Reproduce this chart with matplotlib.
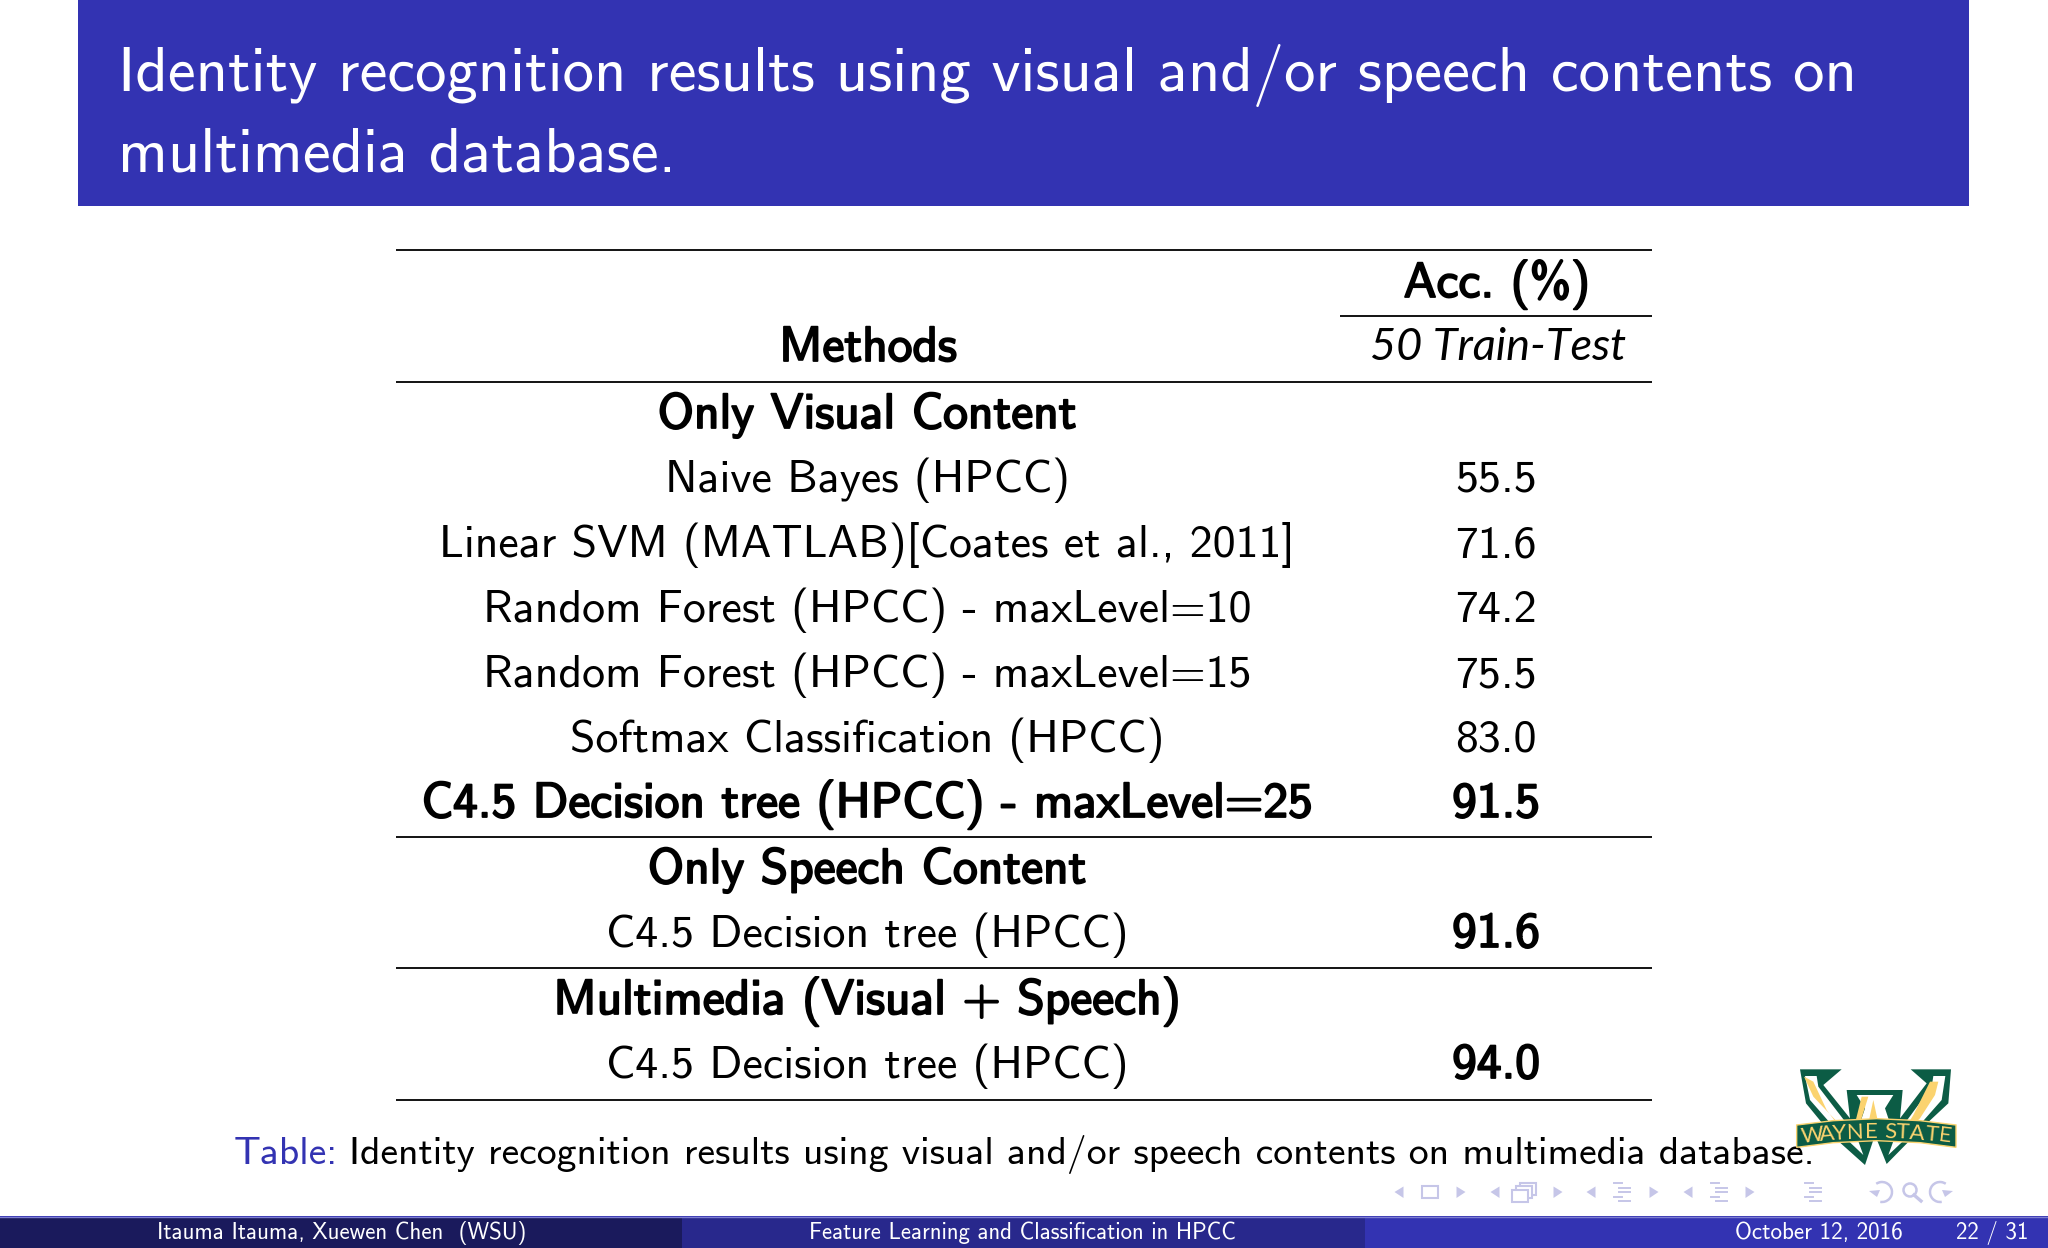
import matplotlib
matplotlib.use("Agg")
import matplotlib.pyplot as plt
import matplotlib.patheffects as pe
from matplotlib.patches import Polygon, Rectangle, Arc, Circle

title_lines = ["Identity recognition results using visual and/or speech contents on", "multimedia database."]
header_acc = "Acc. (%)"
header_sub = "50 Train-Test"
header_methods = "Methods"
row_labels = ["Only Visual Content", "Naive Bayes (HPCC)", "Linear SVM (MATLAB)[Coates et al., 2011]",
              "Random Forest (HPCC) - maxLevel=10", "Random Forest (HPCC) - maxLevel=15",
              "Softmax Classification (HPCC)", "C4.5 Decision tree (HPCC) - maxLevel=25",
              "Only Speech Content", "C4.5 Decision tree (HPCC)",
              "Multimedia (Visual + Speech)", "C4.5 Decision tree (HPCC)"]
row_values = ["", "55.5", "71.6", "74.2", "75.5", "83.0", "91.5", "", "91.6", "", "94.0"]
row_bold_label = [True, False, False, False, False, False, True, True, False, True, False]
row_bold_value = [False, False, False, False, False, False, True, False, True, False, True]
row_baselines = [428, 492, 557, 622, 687, 752, 817, 883, 947, 1014, 1078]
rule_rows = [(396, 1652, 249.5), (1340, 1652, 316), (396, 1652, 381.5), (396, 1652, 836.5), (396, 1652, 968), (396, 1652, 1100)]
caption_label = "Table:"
caption_text = "Identity recognition results using visual and/or speech contents on multimedia database."
footer_left = "Itauma Itauma, Xuewen Chen  (WSU)"
footer_mid = "Feature Learning and Classification in HPCC"
footer_date = "October 12, 2016"
footer_page = "22 / 31"

BLUE = "#3333b2"; NAV = "#1a1a5c"; MID = "#28288c"; PALE = "#c6c6e8"
GREEN = "#0c5c45"; GOLD = "#fbd36f"
F = "cmss10"

fig = plt.figure(figsize=(20.48, 12.48), dpi=100, facecolor="white")
ax = fig.add_axes([0, 0, 1, 1])
ax.set_xlim(0, 2048); ax.set_ylim(1248, 0); ax.axis("off")


def T(x, y, s, size=38, color="black", ha="center", bold=False, **kw):
    kw.setdefault("family", F)
    t = ax.text(x, y, s, fontsize=size, color=color, ha=ha, va="baseline", **kw)
    if bold:
        t.set_path_effects([pe.withStroke(linewidth=1.3, foreground=color)])
    return t


# header
ax.add_patch(Rectangle((78, 0), 1891, 206, color=BLUE, lw=0))
T(118, 91, title_lines[0], size=45.15, color="white", ha="left")
T(118, 171, title_lines[1], size=45.15, color="white", ha="left")

# table
for x0, x1, y in rule_rows:
    ax.plot([x0, x1], [y, y], color="black", lw=1.3, solid_capstyle="butt")
S = 33.05
SB = 35.6
T(1497, 297, header_acc, size=SB, bold=True)
T(868, 361, header_methods, size=SB, bold=True)
T(1498, 360, header_sub, size=32.5, family="Lato", style="italic")
for lab, val, bl, bv, y in zip(row_labels, row_values, row_bold_label, row_bold_value, row_baselines):
    T(867, y, lab, size=SB if bl else S, bold=bl)
    if val:
        T(1496, y, val, size=SB if bv else S, bold=bv)

# caption
T(234, 1164, caption_label, size=28.5, color=BLUE, ha="left")
T(349, 1164, caption_text, size=28.55, ha="left")

# footer
ax.add_patch(Rectangle((0, 1216), 2048, 32, color=BLUE, lw=0))
ax.add_patch(Rectangle((0, 1217), 682, 31, color=NAV, lw=0))
ax.add_patch(Rectangle((682, 1217), 683, 31, color=MID, lw=0))
ax.plot([0, 2048], [1216.5, 1216.5], color="#7d7dd0", lw=1)
T(157, 1239, footer_left, size=16.5, color="white", ha="left")
T(809, 1239, footer_mid, size=16.45, color="white", ha="left")
T(1735, 1239, footer_date, size=16.6, color="white", ha="left")
T(1956, 1239, footer_page, size=16.5, color="white", ha="left")


# navigation symbols
def tri(x, d):
    ax.add_patch(Polygon([(x - 4.5 * d, 1186.5), (x - 4.5 * d, 1198), (x + 4.5 * d, 1192)], color=PALE, lw=0))


def lines(x):
    for i, (a, b) in enumerate([(-8, 0), (-3, 8), (-3, 8), (-8, 0), (-3, 8)]):
        ax.plot([x + a, x + b], [1183 + i * 4.5] * 2, color=PALE, lw=1.4)


for x, d in [(1399, -1), (1461, 1), (1495, -1), (1558, 1), (1591, -1), (1654, 1), (1688, -1), (1750, 1)]:
    tri(x, d)
ax.add_patch(Rectangle((1422, 1186), 16, 12, fill=False, ec=PALE, lw=1.5))
for x, y in [(1520, 1183), (1516, 1186), (1512, 1190)]:
    ax.add_patch(Rectangle((x, y), 16, 12, fc="white", ec=PALE, lw=1.5))
lines(1622); lines(1719); lines(1813)
ax.add_patch(Arc((1882, 1192), 20, 20, theta1=-125, theta2=100, color=PALE, lw=1.8))
ax.add_patch(Arc((1940, 1192), 20, 20, theta1=80, theta2=305, color=PALE, lw=1.8))
ax.add_patch(Polygon([(1869, 1191), (1880, 1190), (1877, 1197)], color=PALE, lw=0))
ax.add_patch(Polygon([(1953, 1191), (1942, 1190), (1945, 1197)], color=PALE, lw=0))
ax.add_patch(Circle((1910, 1190), 6.5, fill=False, ec=PALE, lw=1.8))
ax.plot([1914, 1921], [1195, 1201], color=PALE, lw=2.4)


# logo: outline points, in zoom-crop coordinates
def Z(pts):
    return [(1700 + x / 3, 1040 + y / 3) for x, y in pts]


ax.add_patch(Polygon(Z([(300, 88), (425, 88), (370, 135), (450, 235), (440, 150), (608, 150), (600, 235), (680, 130),
                        (632, 88), (753, 88), (745, 190), (670, 260), (560, 372), (525, 285), (495, 375), (400, 290), (318, 190)]),
                     color=GREEN, lw=0, zorder=3))
ax.add_patch(Polygon(Z([(315, 108), (350, 108), (355, 140), (470, 290), (490, 345), (400, 260), (330, 180)]), color="white", lw=0, zorder=3))
ax.add_patch(Polygon(Z([(312, 110), (340, 125), (380, 210), (440, 290), (425, 260), (340, 170)]), color=GOLD, lw=0, zorder=3))
ax.add_patch(Polygon(Z([(736, 108), (700, 108), (695, 140), (585, 290), (565, 345), (650, 265), (725, 180)]), color="white", lw=0, zorder=3))
ax.add_patch(Polygon(Z([(715, 125), (690, 125), (640, 225), (600, 290), (660, 235), (705, 165)]), color=GOLD, lw=0, zorder=3))
ax.add_patch(Polygon(Z([(470, 165), (580, 165), (555, 205), (570, 250), (480, 250), (495, 205)]), color="white", lw=0, zorder=3))
ax.add_patch(Polygon(Z([(485, 170), (505, 170), (480, 250), (465, 250)]), color=GOLD, lw=0, zorder=3))
ax.add_patch(Polygon(Z([(520, 180), (535, 250), (505, 250)]), color=GOLD, lw=0, zorder=3))
ax.add_patch(Polygon(Z([(290, 255), (400, 242), (530, 236), (660, 242), (768, 255), (768, 322), (660, 308), (530, 302), (400, 308), (290, 322)]),
                     fc=GREEN, ec=GOLD, lw=1, zorder=4))
banner_letters = ["W", "A", "Y", "N", "E", "S", "T", "A", "T", "E"]
banner_x = [338, 382, 420, 467, 515, 571, 608, 650, 693, 733]
for ch, x in zip(banner_letters, banner_x):
    y = 294 + ((x - 528) / 200) ** 2 * 12
    ax.text(1700 + x / 3, 1040 + y / 3, ch, color=GOLD, fontsize=16, family="Lato", ha="center", va="baseline",
            rotation=-(x - 528) / 200 * 7, rotation_mode="anchor", zorder=5)

fig.savefig("out.png", dpi=100)
